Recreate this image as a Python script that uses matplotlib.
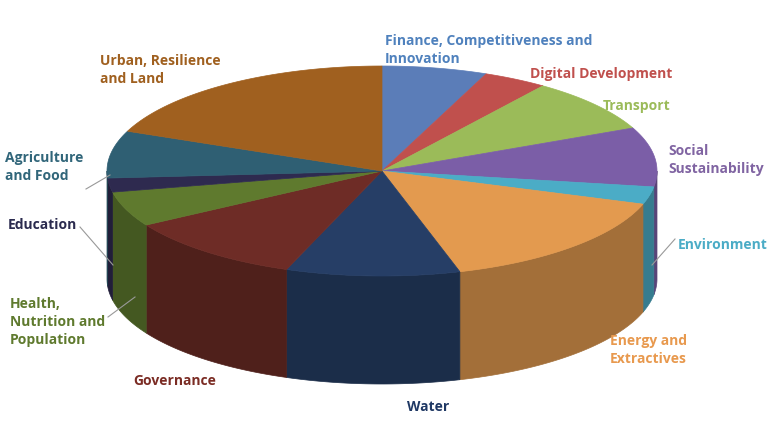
import numpy as np
import matplotlib
matplotlib.use("Agg")
import matplotlib.pyplot as plt
from matplotlib.patches import Polygon
from matplotlib.colors import to_rgb

categories = ["Finance, Competitiveness and\nInnovation", "Digital Development", "Transport",
              "Social\nSustainability", "Environment", "Energy and\nExtractives", "Water",
              "Governance", "Health,\nNutrition and\nPopulation", "Education",
              "Agriculture\nand Food", "Urban, Resilience\nand Land"]
values = [23, 14, 31, 34, 10, 57, 38, 40, 20, 8, 27, 70]
colors = ["#5B7DB8", "#C0504D", "#9BBB59", "#7B5EA7", "#4BACC6", "#E39A4F", "#263E66",
          "#6E2C26", "#5F7A2E", "#2E2A4F", "#2F5F73", "#A0601F"]
label_colors = ["#4F81BD", "#C0504D", "#9BBB59", "#8064A2", "#4BACC6", "#E8994E", "#1F3864",
                "#7B2C24", "#5F7A2E", "#2B2B4F", "#31667A", "#A0601F"]
label_pos = [(385, 50, 'left'), (530, 74, 'left'), (603, 106, 'left'), (668, 160, 'left'),
             (678, 245, 'left'), (610, 350, 'left'), (428, 407, 'center'), (133, 381, 'left'),
             (10, 322, 'left'), (8, 225, 'left'), (5, 167, 'left'), (100, 70, 'left')]

cx, cy, a, b, depth = 382, 172, 275, 105, 108

fig = plt.figure(figsize=(7.8, 4.39), dpi=100)
ax = fig.add_axes([0, 0, 1, 1])
ax.set_xlim(0, 780); ax.set_ylim(439, 0); ax.axis('off')

def pt(t, dy=0):
    return cx + a*np.sin(t), cy - b*np.cos(t) + dy

frac = np.array(values, float) / sum(values)
edges = np.concatenate([[0], np.cumsum(frac)]) * 2*np.pi

for i in range(len(values)):
    t0, t1 = max(edges[i], np.pi/2), min(edges[i+1], 3*np.pi/2)
    if t1 <= t0:
        continue
    ts = np.linspace(t0, t1, 60)
    top = [pt(t) for t in ts]
    bot = [pt(t, depth) for t in ts[::-1]]
    c = np.array(to_rgb(colors[i])) * 0.72
    ax.add_patch(Polygon(top + bot, closed=True, fc=c, ec=c, lw=0.5))
for i in range(len(values)):
    ts = np.linspace(edges[i], edges[i+1], 80)
    poly = [(cx, cy)] + [pt(t) for t in ts]
    ax.add_patch(Polygon(poly, closed=True, fc=colors[i], ec=colors[i], lw=0.5))

for cat, (x, y, ha), lc in zip(categories, label_pos, label_colors):
    ax.text(x, y, cat, ha=ha, va='center', color=lc, fontsize=10, fontweight='bold',
            family='Open Sans', linespacing=1.35)

for (x0, y0, x1, y1) in [(80, 228, 113, 266), (86, 190, 110, 176), (108, 318, 135, 298),
                         (675, 240, 652, 266)]:
    ax.plot([x0, x1], [y0, y1], color='#999999', lw=0.8)

fig.savefig("out.png", dpi=100)
